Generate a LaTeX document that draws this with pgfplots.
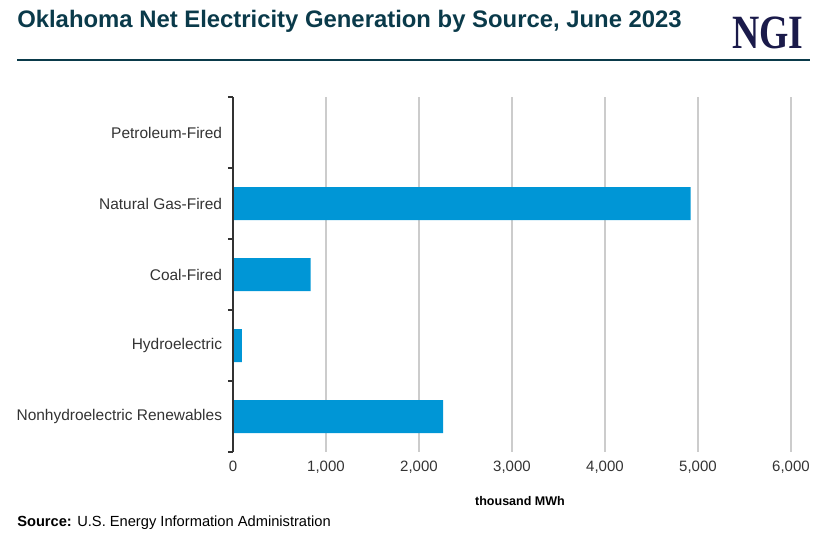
\documentclass[border=0pt]{standalone}
\usepackage{fontspec}
\setmainfont{Liberation Sans}
\newfontfamily\logofont{Liberation Serif}
\usepackage{pgfplots}
\pgfplotsset{compat=1.18}

\definecolor{titleteal}{HTML}{0A3A4A}
\definecolor{logonavy}{HTML}{1A1A4A}
\definecolor{barblue}{HTML}{0096D6}
\definecolor{textgray}{HTML}{333333}
\definecolor{gridgray}{HTML}{CCCCCC}

\begin{document}
\begin{tikzpicture}
  % page frame: 828 x 540 px at 0.75pt per px
  \path[use as bounding box] (0,0) rectangle (621pt,-405pt);

  \begin{axis}[
    at={(174.75pt,-339pt)}, anchor=south west,
    scale only axis, width=418.5pt, height=266.25pt,
    xbar, bar width=24.75pt,
    xmin=0, xmax=6000,
    ymin=-0.5, ymax=4.5, y dir=reverse,
    xtick={0,1000,...,6000},
    ytick={0,1,2,3,4},
    yticklabels={Petroleum-Fired, Natural Gas-Fired, Coal-Fired, Hydroelectric, Nonhydroelectric Renewables},
    minor ytick={-0.5,0.5,...,4.5},
    major tick length=0pt, minor tick length=3.75pt,
    tick align=outside, ytick pos=left, xtick pos=bottom,
    minor tick style={textgray, line width=1pt},
    axis line style={draw=none},
    xmajorgrids, major x grid style={gridgray, line width=1pt},
    /pgf/number format/assume math mode=true,
    /pgf/number format/1000 sep={,},
    xticklabel style={font=\fontsize{11.25pt}{13pt}\selectfont, text=textgray, inner sep=0pt, anchor=north, yshift=-6.5pt},
    yticklabel style={font=\fontsize{11.6pt}{13pt}\selectfont, text=textgray, inner sep=0pt, anchor=east, xshift=-8pt},
    clip=false,
  ]
    \addplot[fill=barblue, draw=none] coordinates {
      (0,0) (4920,1) (835,2) (95,3) (2260,4)
    };
    \draw[textgray, line width=1pt] (axis cs:0,-0.5) -- (axis cs:0,4.5);
  \end{axis}

  \begin{scope}[x=0.75pt, y=-0.75pt]
    % heading
    \node[anchor=base west, inner sep=0pt, text=titleteal,
      font=\fontsize{17.9pt}{20pt}\selectfont\bfseries] at (17,27.5)
      {Oklahoma Net Electricity Generation by Source, June 2023};
    \draw[titleteal, line width=1.8pt] (17,60) -- (810,60);
    % logo
    \node[anchor=base west, inner sep=0pt, text=logonavy] at (732,48.3)
      {\scalebox{0.79}[1]{\fontsize{35.8pt}{36pt}\logofont\bfseries NGI}};
    % unit label
    \node[anchor=base, inner sep=0pt, text=black,
      font=\fontsize{9.4pt}{11pt}\selectfont\bfseries] at (520,505) {thousand MWh};
    % source line
    \node[anchor=base west, inner sep=0pt, text=black,
      font=\fontsize{11pt}{13pt}\selectfont] at (17,526)
      {\textbf{Source:} U.S. Energy Information Administration};
  \end{scope}
\end{tikzpicture}
\end{document}
